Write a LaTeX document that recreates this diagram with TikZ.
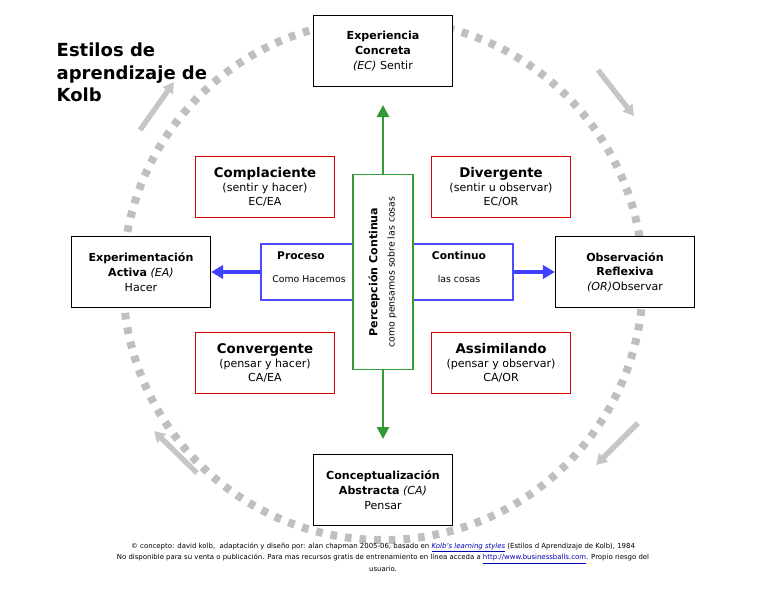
\documentclass[tikz,border=0pt]{standalone}
\usepackage{fontspec}
\setmainfont{DejaVu Sans}
\usetikzlibrary{arrows.meta}
\begin{document}
\begin{tikzpicture}[x=0.75pt,y=-0.75pt,
  pole/.style={draw=black,line width=1.2pt,fill=white,align=center,font=\fontsize{8.3}{11}\selectfont,minimum width=104pt,minimum height=53pt},
  style/.style={draw=red!85!black,line width=1pt,fill=white,align=center,font=\fontsize{8.3}{10.5}\selectfont,minimum width=104pt,minimum height=46pt},
  cycle/.style={draw=gray!45,line width=4pt,-{Triangle[length=8pt,width=9pt]}},
  axisv/.style={draw=green!50!black!80,line width=2pt,-{Triangle[length=9pt,width=9pt]}},
  axish/.style={draw=blue!75,line width=3pt,-{Triangle[length=9pt,width=10pt]}}]
 \useasboundingbox (0,0) rectangle (768,594);
 \draw[gray!50,line width=6pt,dash pattern=on 5pt off 6pt] (383,280) circle [radius=260];
 % grey cycle arrows
 \coordinate (g1s) at (140,130); \coordinate (g1e) at (174,82);
 \coordinate (g2s) at (598,70);  \coordinate (g2e) at (634,116);
 \coordinate (g3s) at (638,423); \coordinate (g3e) at (596,465);
 \coordinate (g4s) at (197,473); \coordinate (g4e) at (154,431);
 \draw[cycle] (g1s) -- (g1e);
 \draw[cycle] (g2s) -- (g2e);
 \draw[cycle] (g3s) -- (g3e);
 \draw[cycle] (g4s) -- (g4e);
 % title
 \node[anchor=north west,align=left,font=\fontsize{13.5}{17}\selectfont\bfseries] (title) at (52,38) {Estilos de\\aprendizaje de\\Kolb};
 % processing axis
 \node[draw=blue!70,line width=1pt,minimum width=189pt,minimum height=42pt] (proc) at (387,272) {};
 \node[font=\fontsize{8}{9}\selectfont\bfseries] (proc1) at (301,256) {Proceso};
 \node[font=\fontsize{7}{8}\selectfont] (proc2) at (309,279) {Como Hacemos};
 \node[font=\fontsize{8}{9}\selectfont\bfseries] (cont1) at (459,256) {Continuo};
 \node[font=\fontsize{7}{8}\selectfont] (cont2) at (459,279) {las cosas};
 % perception axis
 \node[draw=green!50!black!80,line width=1pt,fill=white,minimum width=45pt,minimum height=146pt] (perc) at (383,272) {};
 \node[rotate=90,font=\fontsize{8.3}{9}\selectfont\bfseries] (perc1) at (374,272) {Percepción Continua};
 \node[rotate=90,font=\fontsize{7}{8}\selectfont] (perc2) at (392,272) {como pensamos sobre las cosas};
 % poles
 \node[pole] (ec) at (383,51) {\textbf{Experiencia}\\\textbf{Concreta}\\\textit{(EC)} Sentir};
 \node[pole] (ea) at (141,272) {\textbf{Experimentación}\\\textbf{Activa} \textit{(EA)}\\Hacer};
 \node[pole] (or) at (625,272) {\textbf{Observación}\\\textbf{Reflexiva}\\\textit{(OR)}Observar};
 \node[pole] (ca) at (383,490) {\textbf{Conceptualización}\\\textbf{Abstracta} \textit{(CA)}\\Pensar};
 % styles
 \node[style] (acc) at (265,187) {{\fontsize{10}{12}\selectfont\bfseries Complaciente}\\(sentir y hacer)\\EC/EA};
 \node[style] (div) at (501,187) {{\fontsize{10}{12}\selectfont\bfseries Divergente}\\(sentir u observar)\\EC/OR};
 \node[style] (con) at (265,363) {{\fontsize{10}{12}\selectfont\bfseries Convergente}\\(pensar y hacer)\\CA/EA};
 \node[style] (asi) at (501,363) {{\fontsize{10}{12}\selectfont\bfseries Assimilando}\\(pensar y observar)\\CA/OR};
 % axis arrows
 \draw[axisv] (perc.north) -- (ec.south |- 0,105);
 \draw[axisv] (perc.south) -- (ca.north |- 0,439);
 \draw[axish] (proc.west) -- (ea.east);
 \draw[axish] (proc.east) -- (or.west);
 % footer
 \node[align=center,font=\fontsize{5.2}{8.5}\selectfont] (foot) at (383,557) {\copyright{} concepto: david kolb,\ \ adaptación y diseño por: alan chapman 2005-06, basado en \textcolor{blue!70!black}{\underline{\textit{Kolb's learning styles}}} (Estilos d Aprendizaje de Kolb), 1984\\No disponible para su venta o publicación. Para mas recursos gratis de entrenamiento en línea acceda a \textcolor{blue!70!black}{\underline{http://www.businessballs.com}}. Propio riesgo del\\usuario.};
\end{tikzpicture}
\end{document}
